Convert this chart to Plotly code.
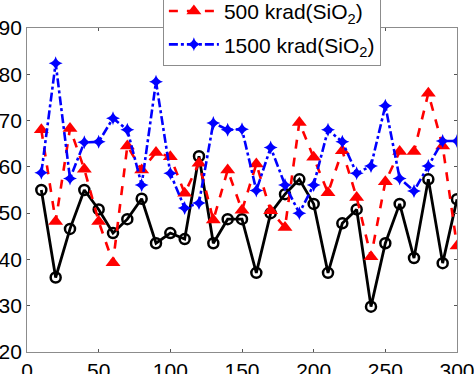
import plotly.graph_objects as go

x_vals = list(range(10, 301, 10))

black_vals = [55.0, 36.1, 46.6, 55.0, 50.8, 45.7, 48.7, 53.1, 43.5, 45.7,
              44.4, 62.3, 43.5, 48.7, 48.7, 37.1, 50.0, 54.1, 57.3, 52.0,
              37.1, 47.8, 50.8, 29.8, 43.5, 52.0, 40.3, 57.3, 39.2, 53.0]

red_vals = [68.0, 48.2, 68.3, 59.5, 48.2, 39.3, 64.5, 59.3, 63.1, 62.2,
            54.3, 60.8, 48.5, 59.3, 50.6, 60.6, 50.5, 46.9, 69.6, 62.1,
            54.4, 63.5, 53.4, 40.6, 56.8, 63.3, 63.3, 75.9, 64.5, 42.9]

blue_vals = [58.7, 82.4, 57.5, 65.3, 65.4, 70.5, 68.0, 56.1, 78.4, 58.6,
             51.1, 52.2, 69.5, 68.0, 68.1, 54.9, 64.2, 56.1, 50.0, 56.1,
             68.0, 65.4, 58.6, 60.2, 73.2, 57.5, 54.8, 60.2, 65.6, 65.6]

red_name = "500 krad(SiO<sub>2</sub>)"
blue_name = "1500 krad(SiO<sub>2</sub>)"

x_ticks = [0, 50, 100, 150, 200, 250, 300]
y_ticks = [20, 30, 40, 50, 60, 70, 80, 90]

fig = go.Figure()
fig.add_trace(go.Scatter(
    x=x_vals, y=black_vals, mode="lines+markers", showlegend=False,
    line=dict(color="black", width=2.8),
    marker=dict(symbol="circle-open", size=10, color="black", line=dict(width=2.5)),
))
fig.add_trace(go.Scatter(
    x=x_vals, y=red_vals, mode="lines+markers", name=red_name, legendgroup="r",
    line=dict(color="#ff0000", width=2.6, dash="dash"),
    marker=dict(symbol="triangle-up", size=13, color="#ff0000"),
))
fig.add_trace(go.Scatter(
    x=x_vals, y=blue_vals, mode="lines+markers", name=blue_name, legendgroup="b",
    line=dict(color="#0000ff", width=2.6, dash="dashdot"),
    marker=dict(symbol="star-diamond", size=10, color="#0000ff"),
))

axis_common = dict(
    showline=True, linecolor="#8c8c8c", linewidth=1, mirror="ticks",
    ticks="inside", ticklen=3, tickcolor="#555555", showgrid=False, zeroline=False,
    ticklabeloverflow="allow",
    tickfont=dict(family="Liberation Sans, Arial", size=21, color="black"),
)
fig.update_xaxes(range=[0, 300], tickvals=x_ticks, **axis_common)
fig.update_yaxes(range=[20, 90], tickvals=y_ticks, **axis_common)

fig.update_layout(
    width=474, height=374,
    margin=dict(l=27, r=17, t=28, b=22, autoexpand=False),
    plot_bgcolor="white", paper_bgcolor="white",
    font=dict(family="Liberation Sans, Arial", size=21, color="black"),
    legend=dict(
        x=0.316, y=0.883, xanchor="left", yanchor="bottom",
        xref="paper", yref="paper",
        bgcolor="white", bordercolor="#8c8c8c", borderwidth=1,
        itemwidth=50, tracegroupgap=3, traceorder="grouped",
        font=dict(family="Liberation Sans, Arial", size=21, color="black"),
    ),
)

fig.write_html(
    "out.html",
    config={"displayModeBar": False},
    post_script="document.body.style.margin='0';document.body.style.overflow='hidden';",
)
